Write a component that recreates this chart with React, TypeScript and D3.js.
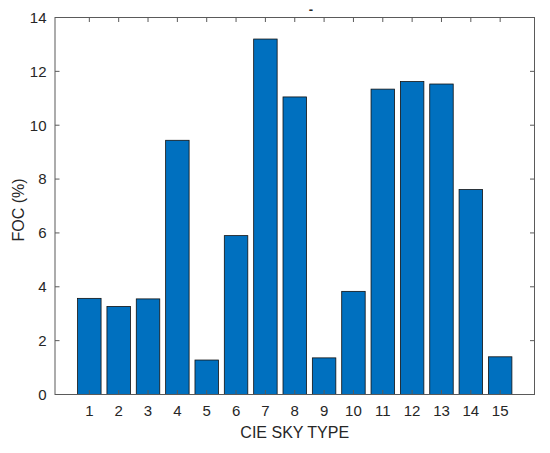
import React, { useEffect, useRef } from "react";
import * as d3 from "d3";

const skyTypes = [1, 2, 3, 4, 5, 6, 7, 8, 9, 10, 11, 12, 13, 14, 15];
const focValues = [3.57, 3.27, 3.55, 9.44, 1.28, 5.9, 13.2, 11.05, 1.36, 3.83, 11.34, 11.62, 11.53, 7.61, 1.4];
const yTicks = [0, 2, 4, 6, 8, 10, 12, 14];

const width = 550;
const height = 453;
const margin = { top: 17.5, right: 15.5, bottom: 58.5, left: 55 };

export default function App() {
  const svgRef = useRef<SVGSVGElement>(null);

  useEffect(() => {
    if (!svgRef.current) return;
    const svg = d3.select(svgRef.current);
    svg.selectAll("*").remove();

    const x0 = margin.left;
    const x1 = width - margin.right;
    const y0 = height - margin.bottom;
    const y1 = margin.top;

    const x = d3.scaleLinear().domain([-0.17, 16.17]).range([x0, x1]);
    const y = d3.scaleLinear().domain([0, 14]).range([y0, y1]);
    const barW = (x(1) - x(0)) * 0.8;

    const font = "'Liberation Sans', Arial, sans-serif";
    const ink = "#262626";
    const axisColor = "#5a5a5a";

    svg.append("rect").attr("width", width).attr("height", height).attr("fill", "#fff");

    // Bars
    svg
      .append("g")
      .selectAll("rect")
      .data(focValues)
      .join("rect")
      .attr("x", (_d, i) => x(skyTypes[i]) - barW / 2)
      .attr("y", (d) => y(d))
      .attr("width", barW)
      .attr("height", (d) => y0 - y(d))
      .attr("fill", "#0070BF")
      .attr("stroke", "#111")
      .attr("stroke-width", 0.8);

    // Box
    svg
      .append("rect")
      .attr("x", x0)
      .attr("y", y1)
      .attr("width", x1 - x0)
      .attr("height", y0 - y1)
      .attr("fill", "none")
      .attr("stroke", axisColor)
      .attr("stroke-width", 1);

    const tickLen = 4.5;
    const ticks = svg.append("g").attr("stroke", axisColor).attr("stroke-width", 1);

    skyTypes.forEach((t) => {
      ticks.append("line").attr("x1", x(t)).attr("x2", x(t)).attr("y1", y0).attr("y2", y0 - tickLen);
      ticks.append("line").attr("x1", x(t)).attr("x2", x(t)).attr("y1", y1).attr("y2", y1 + tickLen);
    });
    yTicks.forEach((t) => {
      ticks.append("line").attr("x1", x0).attr("x2", x0 + tickLen).attr("y1", y(t)).attr("y2", y(t));
      ticks.append("line").attr("x1", x1).attr("x2", x1 - tickLen).attr("y1", y(t)).attr("y2", y(t));
    });

    // Tick labels
    svg
      .append("g")
      .selectAll("text")
      .data(skyTypes)
      .join("text")
      .attr("x", (d) => x(d))
      .attr("y", 416)
      .attr("text-anchor", "middle")
      .attr("font-family", font)
      .attr("font-size", 15)
      .attr("fill", ink)
      .text((d) => String(d));

    svg
      .append("g")
      .selectAll("text")
      .data(yTicks)
      .join("text")
      .attr("x", x0 - 8.5)
      .attr("y", (d) => y(d))
      .attr("dy", "0.36em")
      .attr("text-anchor", "end")
      .attr("font-family", font)
      .attr("font-size", 15)
      .attr("fill", ink)
      .text((d) => String(d));

    // Axis labels
    svg
      .append("text")
      .attr("x", (x0 + x1) / 2)
      .attr("y", 437.5)
      .attr("text-anchor", "middle")
      .attr("font-family", font)
      .attr("font-size", 16)
      .attr("fill", ink)
      .text("CIE SKY TYPE");

    svg
      .append("text")
      .attr("transform", `translate(23.5,${(y0 + y1) / 2 + 4}) rotate(-90)`)
      .attr("text-anchor", "middle")
      .attr("font-family", font)
      .attr("font-size", 16)
      .attr("fill", ink)
      .text("FOC (%)");

    // Title
    svg
      .append("text")
      .attr("x", 311)
      .attr("y", 14)
      .attr("text-anchor", "middle")
      .attr("font-family", font)
      .attr("font-size", 13)
      .attr("font-weight", "bold")
      .attr("fill", ink)
      .text("-");
  }, []);

  return (
    <svg
      ref={svgRef}
      width={width}
      height={height}
      style={{ position: "absolute", left: 0, top: 0, display: "block" }}
    />
  );
}
